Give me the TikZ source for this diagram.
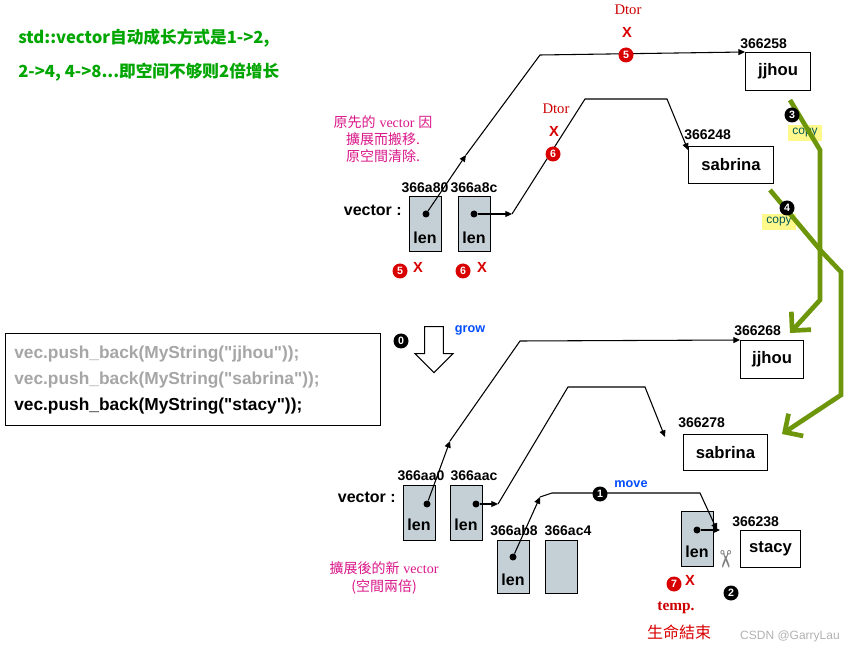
\documentclass[tikz,border=0pt]{standalone}
\usepackage{fontspec}
\setmainfont{Liberation Sans}
\newfontfamily\cjk{Noto Sans CJK SC}
\newfontfamily\srf{Liberation Serif}
\newfontfamily\sym{DejaVu Sans}
\newfontfamily\codefont{Liberation Sans}
\definecolor{olivegreen}{RGB}{110,150,10}
\usetikzlibrary{arrows.meta,shapes.arrows}
\begin{document}
\begin{tikzpicture}[x=0.75pt,y=-0.75pt,
  str/.style={draw,thick,fill=white,font=\bfseries\fontsize{12.5}{13}\selectfont,inner sep=0},
  cell/.style={draw,thick,fill=cyan!20!gray!45,minimum width={32*0.75},minimum height={55*0.75},inner sep=0,anchor=north west},
  addr/.style={font=\fontsize{10.5}{11}\selectfont\bfseries,inner sep=0},
  lbl/.style={font=\fontsize{12}{13}\selectfont\bfseries,inner sep=0},
  dot/.style={circle,fill=black,inner sep=0,minimum size={7*0.75}},
  ptr/.style={thick,-{Triangle[length=5,width=4.5]}},
  num/.style={circle,fill=#1,text=white,inner sep=0,minimum size={15*0.75},font=\fontsize{8}{8}\selectfont\bfseries},
  xx/.style={text=red!85!black,font=\bfseries\fontsize{11}{11}\selectfont,inner sep=0},
  dtor/.style={text=red!80!black,font=\srf\fontsize{11}{11}\selectfont,inner sep=0},
  mag/.style={text=magenta!80!violet,font=\fontsize{10.5}{13}\selectfont,inner sep=0,align=center},
  green/.style={line width=3.5pt,draw=olivegreen},
  copy/.style={fill=yellow!45,text=teal!70!black,font=\fontsize{9}{9}\selectfont,inner sep=3}]
\useasboundingbox (0,0) rectangle (850,652);
\fill[white] (0,0) rectangle (850,652);
% title
\node[anchor=west,text=green!65!black,font=\cjk\bfseries\fontsize{12.5}{13}\selectfont,inner sep=0] (t1) at (18,38) {std::vector自动成长方式是1->2,};
\node[anchor=west,text=green!65!black,font=\cjk\bfseries\fontsize{12.5}{13}\selectfont,inner sep=0] (t2) at (18,72) {2->4, 4->8...即空间不够则2倍增长};
% ---------- top -------------
\node[str,anchor=north west,minimum width={65*0.75},minimum height={38*0.75}] (j1) at (745,52) {jjhou};
\node[addr,anchor=south west] (aj1) at (740,49) {366258};
\node[str,anchor=north west,minimum width={85*0.75},minimum height={37*0.75}] (s1) at (688,146) {sabrina};
\node[addr,anchor=south west] (as1) at (684,140) {366248};
\node[lbl,anchor=east] (v1) at (402,210) {vector :};
\node[cell] (c1) at (409,196) {};
\node[cell] (c2) at (458,196) {};
\node[lbl] (l1) at (425,238) {len};
\node[lbl] (l2) at (474,238) {len};
\node[addr,anchor=south] (a1) at (425,193) {366a80};
\node[addr,anchor=south] (a2) at (474,193) {366a8c};
\node[dot] (d1) at (426,214) {};
\node[dot] (d2) at (474,214) {};
\coordinate (m1) at (466,155);
\coordinate (k1) at (540,55);
\draw[ptr] (d1) -- (m1);
\draw[ptr] (m1) -- (k1) -- (j1.north west);
\coordinate (m2) at (512,214);
\coordinate (k2) at (585,99);
\coordinate (k3) at (667,99);
\draw[ptr] (d2) -- (m2);
\draw[ptr] (m2) -- (k2) -- (k3) -- (688,150);
\node[num=red!85!black] (n5a) at (626,55) {5};
\node[xx] (x5a) at (627,32) {X};
\node[dtor] (dt1) at (628,10) {Dtor};
\node[num=red!85!black] (n6a) at (553,154) {6};
\node[xx] (x6a) at (554,131) {X};
\node[dtor] (dt2) at (556,109) {Dtor};
\node[mag] (mg1) at (383,139) {{\cjk 原先的} {\srf vector} {\cjk 因}\\{\cjk 擴展而搬移.}\\{\cjk 原空間清除.}};
\node[num=red!85!black] (n5b) at (400,271) {5};
\node[xx] (x5b) at (418,267) {X};
\node[num=red!85!black] (n6b) at (463,271) {6};
\node[xx] (x6b) at (482,267) {X};
% ---------- bottom -------------
\node[draw,thick,fill=white,anchor=north west,minimum width={375*0.75},minimum height={92*0.75}] (code) at (5,333) {};
\node[anchor=west,inner sep=0,text=gray!70,font=\codefont\bfseries\fontsize{13}{14}\selectfont] (c1t) at (14,354) {vec.push\_back(MyString("jjhou"));};
\node[anchor=west,inner sep=0,text=gray!70,font=\codefont\bfseries\fontsize{13}{14}\selectfont] (c2t) at (14,380) {vec.push\_back(MyString("sabrina"));};
\node[anchor=west,inner sep=0,text=black,font=\codefont\bfseries\fontsize{13}{14}\selectfont] (c3t) at (14,406) {vec.push\_back(MyString("stacy"));};
\node[num=black] (n0) at (401,341) {0};
\node[draw,thick,fill=white,single arrow,shape border rotate=270,minimum height={46*0.75},minimum width={38*0.75},single arrow head extend=2.5,inner sep=2] (grow) at (434,345) {};
\node[text=blue!70!cyan,font=\bfseries\fontsize{9.5}{10}\selectfont,inner sep=0] (growt) at (470,330) {grow};
\node[str,anchor=north west,minimum width={63*0.75},minimum height={38*0.75}] (j2) at (740,340) {jjhou};
\node[addr,anchor=south west] (aj2) at (734,336) {366268};
\node[str,anchor=north west,minimum width={84*0.75},minimum height={36*0.75}] (s2) at (683,434) {sabrina};
\node[addr,anchor=south west] (as2) at (678,428) {366278};
\node[str,anchor=north west,minimum width={60*0.75},minimum height={37*0.75}] (st) at (740,530) {stacy};
\node[addr,anchor=south west] (ast) at (732,527) {366238};
\node[lbl,anchor=east] (v2) at (396,497) {vector :};
\node[cell] (e1) at (403,485) {};
\node[cell] (e2) at (450,485) {};
\node[cell,minimum height={53*0.75}] (e3) at (497,540) {};
\node[cell,minimum height={53*0.75}] (e4) at (545,540) {};
\node[cell] (tp) at (681,511) {};
\node[lbl] (le1) at (419,525) {len};
\node[lbl] (le2) at (466,525) {len};
\node[lbl] (le3) at (513,580) {len};
\node[lbl] (ltp) at (697,552) {len};
\node[addr,anchor=south] (ae1) at (421,481) {366aa0};
\node[addr,anchor=south] (ae2) at (474,481) {366aac};
\node[addr,anchor=south] (ae3) at (514,536) {366ab8};
\node[addr,anchor=south] (ae4) at (568,536) {366ac4};
\node[dot] (f1) at (427,504) {};
\node[dot] (f2) at (476,504) {};
\node[dot] (f3) at (513,557) {};
\node[dot] (f4) at (697,530) {};
\coordinate (p1) at (450,441);
\coordinate (q1) at (520,341);
\draw[ptr] (f1) -- (p1);
\draw[ptr] (p1) -- (q1) -- (j2.north west);
\coordinate (p2) at (498,504);
\coordinate (q2) at (568,387);
\coordinate (q3) at (645,387);
\draw[ptr] (f2) -- (p2);
\draw[ptr] (p2) -- (q2) -- (q3) -- (665,437);
\coordinate (p3) at (540,497);
\coordinate (q4) at (552,493);
\coordinate (q5) at (700,493);
\draw[ptr] (f3) -- (p3);
\draw[ptr] (p3) -- (q4) -- (q5) -- (717,530);
\draw[ptr] (f4) -- (720,530);
\node[num=black] (n1) at (600,494) {1};
\node[text=blue!70!cyan,font=\bfseries\fontsize{9.5}{10}\selectfont,inner sep=0] (mv) at (631,484) {move};
\node[font=\sym\fontsize{18}{18}\selectfont,text=gray,rotate=-90,inner sep=0] (sc) at (725,560) {✂};
\node[num=black] (n2) at (731,593) {2};
\node[num=red!85!black] (n7) at (674,584) {7};
\node[xx] (x7) at (690,580) {X};
\node[dtor,font=\srf\bfseries\fontsize{11.5}{12}\selectfont] (tmp) at (676,608) {temp.};
\node[text=red!85!black,font=\cjk\fontsize{12}{12}\selectfont,inner sep=0] (life) at (679,632) {生命結束};
\node[mag] (mg2) at (384,578) {{\cjk 擴展後的新} {\srf vector}\\{\cjk (空間兩倍)}};
\node[text=gray!60,font=\fontsize{9}{9}\selectfont,inner sep=0] (csdn) at (790,636) {CSDN @GarryLau};
% green copy lines
\node[copy] (cp1) at (805,133) {copy};
\node[copy] (cp2) at (779,222) {copy};
\draw[green,-{Straight Barb[length=10,width=20]}] (790,100) -- (820,150) -- (820,300) -- (790,333);
\draw[green,-{Straight Barb[length=10,width=20]}] (770,190) -- (822,252) -- (841,272) -- (841,395) -- (782,434);
\node[num=black] (n3) at (792,115) {3};
\node[num=black] (n4) at (787,208) {4};
\end{tikzpicture}
\end{document}
